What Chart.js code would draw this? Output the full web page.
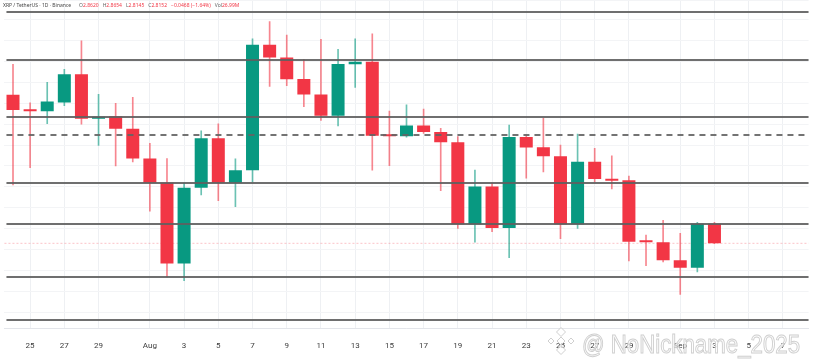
<!DOCTYPE html>
<html>
<head>
<meta charset="utf-8">
<script src="https://cdn.jsdelivr.net/npm/chart.js@4.4.1/dist/chart.umd.min.js"></script>
<style>
  html, body { margin: 0; padding: 0; background: #fff; }
</style>
</head>
<body>
<canvas id="xrpChart" width="813" height="361"></canvas>
<script>
// дни (категории оси X), последние 5 — пустое место справа
const days = [
  "Jul 24", "Jul 25", "Jul 26", "Jul 27", "Jul 28", "Jul 29", "Jul 30", "Jul 31",
  "Aug 1", "Aug 2", "Aug 3", "Aug 4", "Aug 5", "Aug 6", "Aug 7", "Aug 8", "Aug 9", "Aug 10",
  "Aug 11", "Aug 12", "Aug 13", "Aug 14", "Aug 15", "Aug 16", "Aug 17", "Aug 18", "Aug 19", "Aug 20",
  "Aug 21", "Aug 22", "Aug 23", "Aug 24", "Aug 25", "Aug 26", "Aug 27", "Aug 28", "Aug 29", "Aug 30",
  "Aug 31", "Sep 1", "Sep 2", "Sep 3", "Sep 4", "Sep 5", "Sep 6", "Sep 7", "Sep 8",
];
const tickLabels = [
  "", "25", "", "27", "", "29", "", "",
  "Aug", "", "3", "", "5", "", "7", "", "9", "",
  "11", "", "13", "", "15", "", "17", "", "19", "",
  "21", "", "23", "", "25", "", "27", "", "29", "",
  "", "Sep", "", "3", "", "5", "", "7", "",
];

// OHLC, XRP / TetherUS, 1D
const open = [
  3.170, 3.135, 3.131, 3.152, 3.219, 3.113, 3.119, 3.089, 3.018, 2.960,
  2.767, 2.948, 3.066, 2.960, 2.990, 3.290, 3.259, 3.208, 3.171, 3.120,
  3.243, 3.249, 3.073, 3.071, 3.097, 3.081, 3.057, 2.861, 2.951, 2.852,
  3.069, 3.045, 3.023, 2.861, 3.010, 2.969, 2.966, 2.820, 2.818, 2.775,
  2.757, 2.862,
];
const high = [
  3.243, 3.151, 3.200, 3.231, 3.299, 3.171, 3.150, 3.164, 3.054, 3.018,
  2.959, 3.084, 3.101, 3.017, 3.304, 3.345, 3.313, 3.255, 3.303, 3.279,
  3.304, 3.316, 3.131, 3.146, 3.136, 3.090, 3.070, 2.990, 2.959, 3.098,
  3.074, 3.114, 3.050, 3.076, 3.042, 3.024, 2.976, 2.835, 2.870, 2.839,
  2.8654, 2.8654,
];
const low = [
  2.955, 2.996, 3.101, 3.144, 3.100, 3.049, 3.000, 3.010, 2.892, 2.735,
  2.726, 2.931, 2.917, 2.903, 2.962, 3.190, 3.192, 3.142, 3.109, 3.096,
  3.188, 2.990, 3.001, 3.069, 3.078, 2.941, 2.851, 2.818, 2.843, 2.781,
  2.971, 2.986, 2.826, 2.851, 2.962, 2.945, 2.773, 2.762, 2.771, 2.693,
  2.747, 2.8145,
];
const close = [
  3.134, 3.131, 3.154, 3.219, 3.113, 3.117, 3.089, 3.018, 2.960, 2.767,
  2.948, 3.066, 2.960, 2.990, 3.290, 3.259, 3.207, 3.171, 3.120, 3.244,
  3.249, 3.072, 3.071, 3.097, 3.081, 3.057, 2.861, 2.951, 2.852, 3.069,
  3.044, 3.023, 2.861, 3.010, 2.969, 2.965, 2.819, 2.818, 2.775, 2.757,
  2.862, 2.8152,
];

// уровни поддержки/сопротивления
const levels = [3.368, 3.254, 3.116, 2.960, 2.861, 2.735, 2.632];
const dashedLevel = 3.073;
const lastClose = close[close.length - 1];

const GREEN = "#089981";
const RED = "#F23645";
const isUp = close.map((c, i) => c >= open[i]);

// горизонтальные уровни поверх свечей
const levelLines = {
  id: "levelLines",
  beforeDatasetsDraw(chart) {
    const { ctx, chartArea, scales } = chart;
    const y = scales.y.getPixelForValue(lastClose);
    ctx.save();
    ctx.strokeStyle = "rgba(242,54,69,0.3)";
    ctx.lineWidth = 1;
    ctx.setLineDash([2, 2]);
    ctx.beginPath();
    ctx.moveTo(chartArea.left, y);
    ctx.lineTo(chartArea.right, y);
    ctx.stroke();
    ctx.restore();
  },
  afterDatasetsDraw(chart) {
    const { ctx, chartArea, scales } = chart;
    ctx.save();
    ctx.strokeStyle = "rgba(95,95,95,0.9)";
    ctx.lineWidth = 2;
    levels.forEach((lv) => {
      const y = Math.round(scales.y.getPixelForValue(lv));
      ctx.beginPath();
      ctx.moveTo(chartArea.left + 2, y);
      ctx.lineTo(chartArea.right, y);
      ctx.stroke();
    });
    const yd = Math.round(scales.y.getPixelForValue(dashedLevel));
    ctx.strokeStyle = "rgba(100,100,100,0.9)";
    ctx.setLineDash([6, 5]);
    ctx.beginPath();
    ctx.moveTo(chartArea.left + 2, yd);
    ctx.lineTo(chartArea.right, yd);
    ctx.stroke();
    ctx.restore();
  },
};

// заголовок и водяной знак
const overlay = {
  id: "overlay",
  afterDraw(chart) {
    const { ctx } = chart;
    ctx.save();
    // строка с OHLC
    ctx.font = '5px "Noto Sans"';
    ctx.textBaseline = "middle";
    const parts = [
      ["XRP / TetherUS · 1D · Binance", "#444", 8],
      ["O", "#666", 0], ["2.8620", RED, 4],
      ["H", "#666", 0], ["2.8654", RED, 4],
      ["L", "#666", 0], ["2.8145", RED, 4],
      ["C", "#666", 0], ["2.8152", RED, 4],
      ["−0.0468 (−1.64%)", RED, 4],
      ["Vol", "#666", 0], ["26.99M", RED, 0],
    ];
    let x = 3;
    parts.forEach(([t, c, gap]) => {
      ctx.fillStyle = c;
      ctx.fillText(t, x, 5.5);
      x += ctx.measureText(t).width + gap;
    });

    // водяной знак
    ctx.strokeStyle = "#cfcfcf";
    ctx.fillStyle = "rgba(255,255,255,0.5)";
    ctx.lineWidth = 1;
    ctx.font = '25px "Liberation Sans"';
    ctx.textBaseline = "alphabetic";
    const wm = "@ NoNickname_2025";
    ctx.fillText(wm, 582, 353, 218);
    ctx.strokeText(wm, 582, 353, 218);

    // логотип из ромбов
    const cx = 561, cy = 341;
    const dia = (x0, y0, r) => {
      ctx.beginPath();
      ctx.moveTo(x0, y0 - r);
      ctx.lineTo(x0 + r, y0);
      ctx.lineTo(x0, y0 + r);
      ctx.lineTo(x0 - r, y0);
      ctx.closePath();
      ctx.fill();
      ctx.stroke();
    };
    dia(cx, cy, 4);
    dia(cx - 10, cy, 3);
    dia(cx + 10, cy, 3);
    dia(cx, cy - 9, 4.5);
    dia(cx, cy + 9, 4.5);
    ctx.restore();
  },
};

const chartEl = document.getElementById("xrpChart");
new Chart(chartEl, {
  type: "bar",
  data: {
    labels: days,
    datasets: [
      {
        label: "body",
        data: open.map((o, i) => [Math.min(o, close[i]), Math.max(o, close[i])]),
        backgroundColor: isUp.map((u) => (u ? GREEN : RED)),
        borderWidth: 0,
        barPercentage: 0.76,
        categoryPercentage: 1,
        grouped: false,
        minBarLength: 2,
        order: 0,
      },
      {
        label: "wick",
        data: low.map((l, i) => [l, high[i]]),
        backgroundColor: isUp.map((u) => (u ? "rgba(8,153,129,0.6)" : "rgba(242,54,69,0.6)")),
        borderWidth: 0,
        barThickness: 1,
        grouped: false,
        order: 1,
      },
    ],
  },
  options: {
    responsive: false,
    animation: false,
    layout: { padding: { left: 3, right: 2, top: 0, bottom: 0 } },
    plugins: {
      legend: { display: false },
      tooltip: { enabled: false },
    },
    scales: {
      x: {
        offset: true,
        grid: {
          offset: false,
          drawTicks: false,
          color: (ctx) => (tickLabels[ctx.index] ? "#eef0f3" : "rgba(0,0,0,0)"),
        },
        border: { display: true, color: "#e3e5ea" },
        ticks: {
          autoSkip: false,
          maxRotation: 0,
          padding: 13,
          color: "#3c3c3c",
          font: { size: 8, family: "Roboto" },
          callback: (v, i) => tickLabels[i],
        },
        afterFit: (s) => { s.height = 33; },
      },
      y: {
        min: 2.6128,
        max: 3.3967,
        ticks: { display: false, stepSize: 0.05 },
        grid: { color: "#f3f4f6", drawTicks: false },
        border: { display: false },
        afterFit: (s) => { s.width = 0; },
      },
    },
  },
  plugins: [levelLines, overlay],
});
</script>
</body>
</html>
